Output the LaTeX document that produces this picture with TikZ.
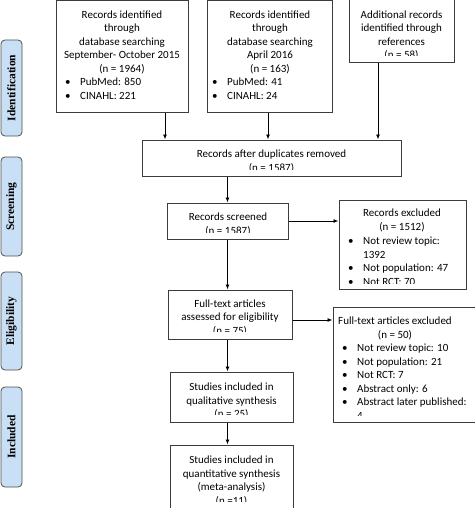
\documentclass[tikz,border=0pt]{standalone}
\usepackage{fontspec}
\setmainfont{Carlito}
\newfontfamily\lblfont{Liberation Serif}
\usetikzlibrary{arrows.meta}
\definecolor{boxgray}{HTML}{3C3C3C}
\definecolor{sidegray}{HTML}{505050}
\definecolor{sideblue}{HTML}{C9DFF5}
\newcommand{\bul}{\makebox[15pt][l]{\textbullet}}
\begin{document}
\begin{tikzpicture}[x=1pt,y=-1pt,
  box/.style={draw=boxgray, line width=1pt, inner sep=0pt, fill=white},
  txt/.style={align=center, font=\fontsize{11}{13.5}\selectfont, inner sep=0pt, anchor=base},
  lst/.style={align=left, font=\fontsize{11}{13.5}\selectfont, inner sep=0pt, anchor=base west},
  arr/.style={-{Latex[length=5pt,width=4pt]}, line width=0.9pt, draw=black},
  side/.style={draw=sidegray, fill=sideblue, rounded corners=4pt, line width=0.8pt,
    inner sep=0pt, rotate=90, minimum height=21pt, font=\lblfont\bfseries\fontsize{11.5}{13}\selectfont}]
\useasboundingbox (0,0) rectangle (474,508);

% side labels
\node[side, minimum width=96pt] (sid) at (11.5,88) {Identification};
\node[side, minimum width=99pt] (scrl) at (11.5,206.5) {Screening};
\node[side, minimum width=98pt] (eli) at (11.5,321) {Eligibility};
\node[side, minimum width=100pt] (inc) at (11.5,437) {Included};

% boxes
\node[box, minimum width=132pt, minimum height=112pt] (b1) at (122,57) {};
\node[box, minimum width=125pt, minimum height=112pt] (b2) at (269.5,57) {};
\node[box, minimum width=105pt, minimum height=66pt] (b3) at (401.5,30) {};
\node[box, minimum width=259pt, minimum height=36pt] (dup) at (271.5,158) {};
\node[box, minimum width=121pt, minimum height=36pt] (scr) at (227.5,221) {};
\node[box, minimum width=127pt, minimum height=89pt] (exc1) at (402.5,244.5) {};
\node[box, minimum width=124pt, minimum height=49pt] (ft) at (230,314.5) {};
\node[box, minimum width=143pt, minimum height=115pt] (exc2) at (404.5,364.5) {};
\node[box, minimum width=123pt, minimum height=50pt] (qual) at (231.5,397) {};
\node[box, minimum width=123pt, minimum height=67pt] (quant) at (231.5,478.5) {};

% texts (clipped inside boxes); anchor = baseline of last line
\begin{scope}
\clip (b1.north west) rectangle ([yshift=7pt]b1.south east);
\node[txt] (t1) at (122,72.5) {Records identified\\through\\database searching\\September- October 2015\\(n = 1964)};
\node[lst] (l1) at (65,99.5) {\bul PubMed: 850\\\bul CINAHL: 221};
\end{scope}
\begin{scope}
\clip (b2.north west) rectangle ([yshift=7pt]b2.south east);
\node[txt] (t2) at (270,72.5) {Records identified\\through\\database searching\\April 2016\\(n = 163)};
\node[lst] (l2) at (212,99.5) {\bul PubMed: 41\\\bul CINAHL: 24};
\end{scope}
\begin{scope}
\clip (b3.north west) rectangle ([yshift=7.5pt]b3.south east);
\node[txt] (t3) at (401.5,59) {Additional records\\identified through\\references\\(n = 58)};
\end{scope}
\begin{scope}
\clip (dup.north west) rectangle ([yshift=7pt]dup.south east);
\node[txt] (t4) at (271.5,171.5) {Records after duplicates removed\\(n = 1587)};
\end{scope}
\begin{scope}
\clip (scr.north west) rectangle ([yshift=7pt]scr.south east);
\node[txt] (t5) at (228,234) {Records screened\\(n = 1587)};
\end{scope}
\begin{scope}
\clip (exc1.north west) rectangle ([yshift=6.5pt]exc1.south east);
\node[txt] (t6) at (402,230) {Records excluded\\(n = 1512)};
\node[lst] (l6) at (348,285) {\bul Not review topic:\\\hspace*{15pt}1392\\\bul Not population: 47\\\bul Not RCT: 70};
\end{scope}
\begin{scope}
\clip (ft.north west) rectangle ([yshift=8.5pt]ft.south east);
\node[txt] (t7) at (230,334) {Full-text articles\\assessed for eligibility\\(n = 75)};
\end{scope}
\begin{scope}
\clip (exc2.north west) rectangle ([yshift=7pt]exc2.south east);
\node[txt] (t8) at (395,338) {Full-text articles excluded\\(n = 50)};
\node[lst] (l8) at (342,419) {\bul Not review topic: 10\\\bul Not population: 21\\\bul Not RCT: 7\\\bul Abstract only: 6\\\bul Abstract later published:\\\hspace*{15pt}4};
\end{scope}
\begin{scope}
\clip (qual.north west) rectangle ([yshift=8pt]qual.south east);
\node[txt] (t9) at (231.5,417.5) {Studies included in\\qualitative synthesis\\(n = 25)};
\end{scope}
\begin{scope}
\clip (quant.north west) rectangle (quant.east |- 0,501);
\node[txt] (t10) at (231.5,504) {Studies included in\\quantitative synthesis\\(meta-analysis)\\(n =11)};
\end{scope}

% connectors
\draw[arr] ([xshift=43pt]b1.south) -- ([xshift=43pt]b1.south |- dup.north);
\draw[arr] ([xshift=-1.5pt]b2.south) -- ([xshift=-1.5pt]b2.south |- dup.north);
\draw[arr] ([xshift=-23.5pt]b3.south) -- ([xshift=-23.5pt]b3.south |- dup.north);
\draw[arr] (scr.north |- dup.south) -- (scr.north);
\draw[arr] (scr.east) -- (scr.east -| exc1.west);
\draw[arr] (scr.south) -- (scr.south |- ft.north);
\draw[arr] ([yshift=-5.5pt]ft.east) -- ([yshift=-5.5pt]ft.east -| exc2.west);
\draw[arr] (ft.south -| scr.south) -- (qual.north -| scr.south);
\draw[arr] (qual.south -| scr.south) -- (quant.north -| scr.south);
\end{tikzpicture}
\end{document}
